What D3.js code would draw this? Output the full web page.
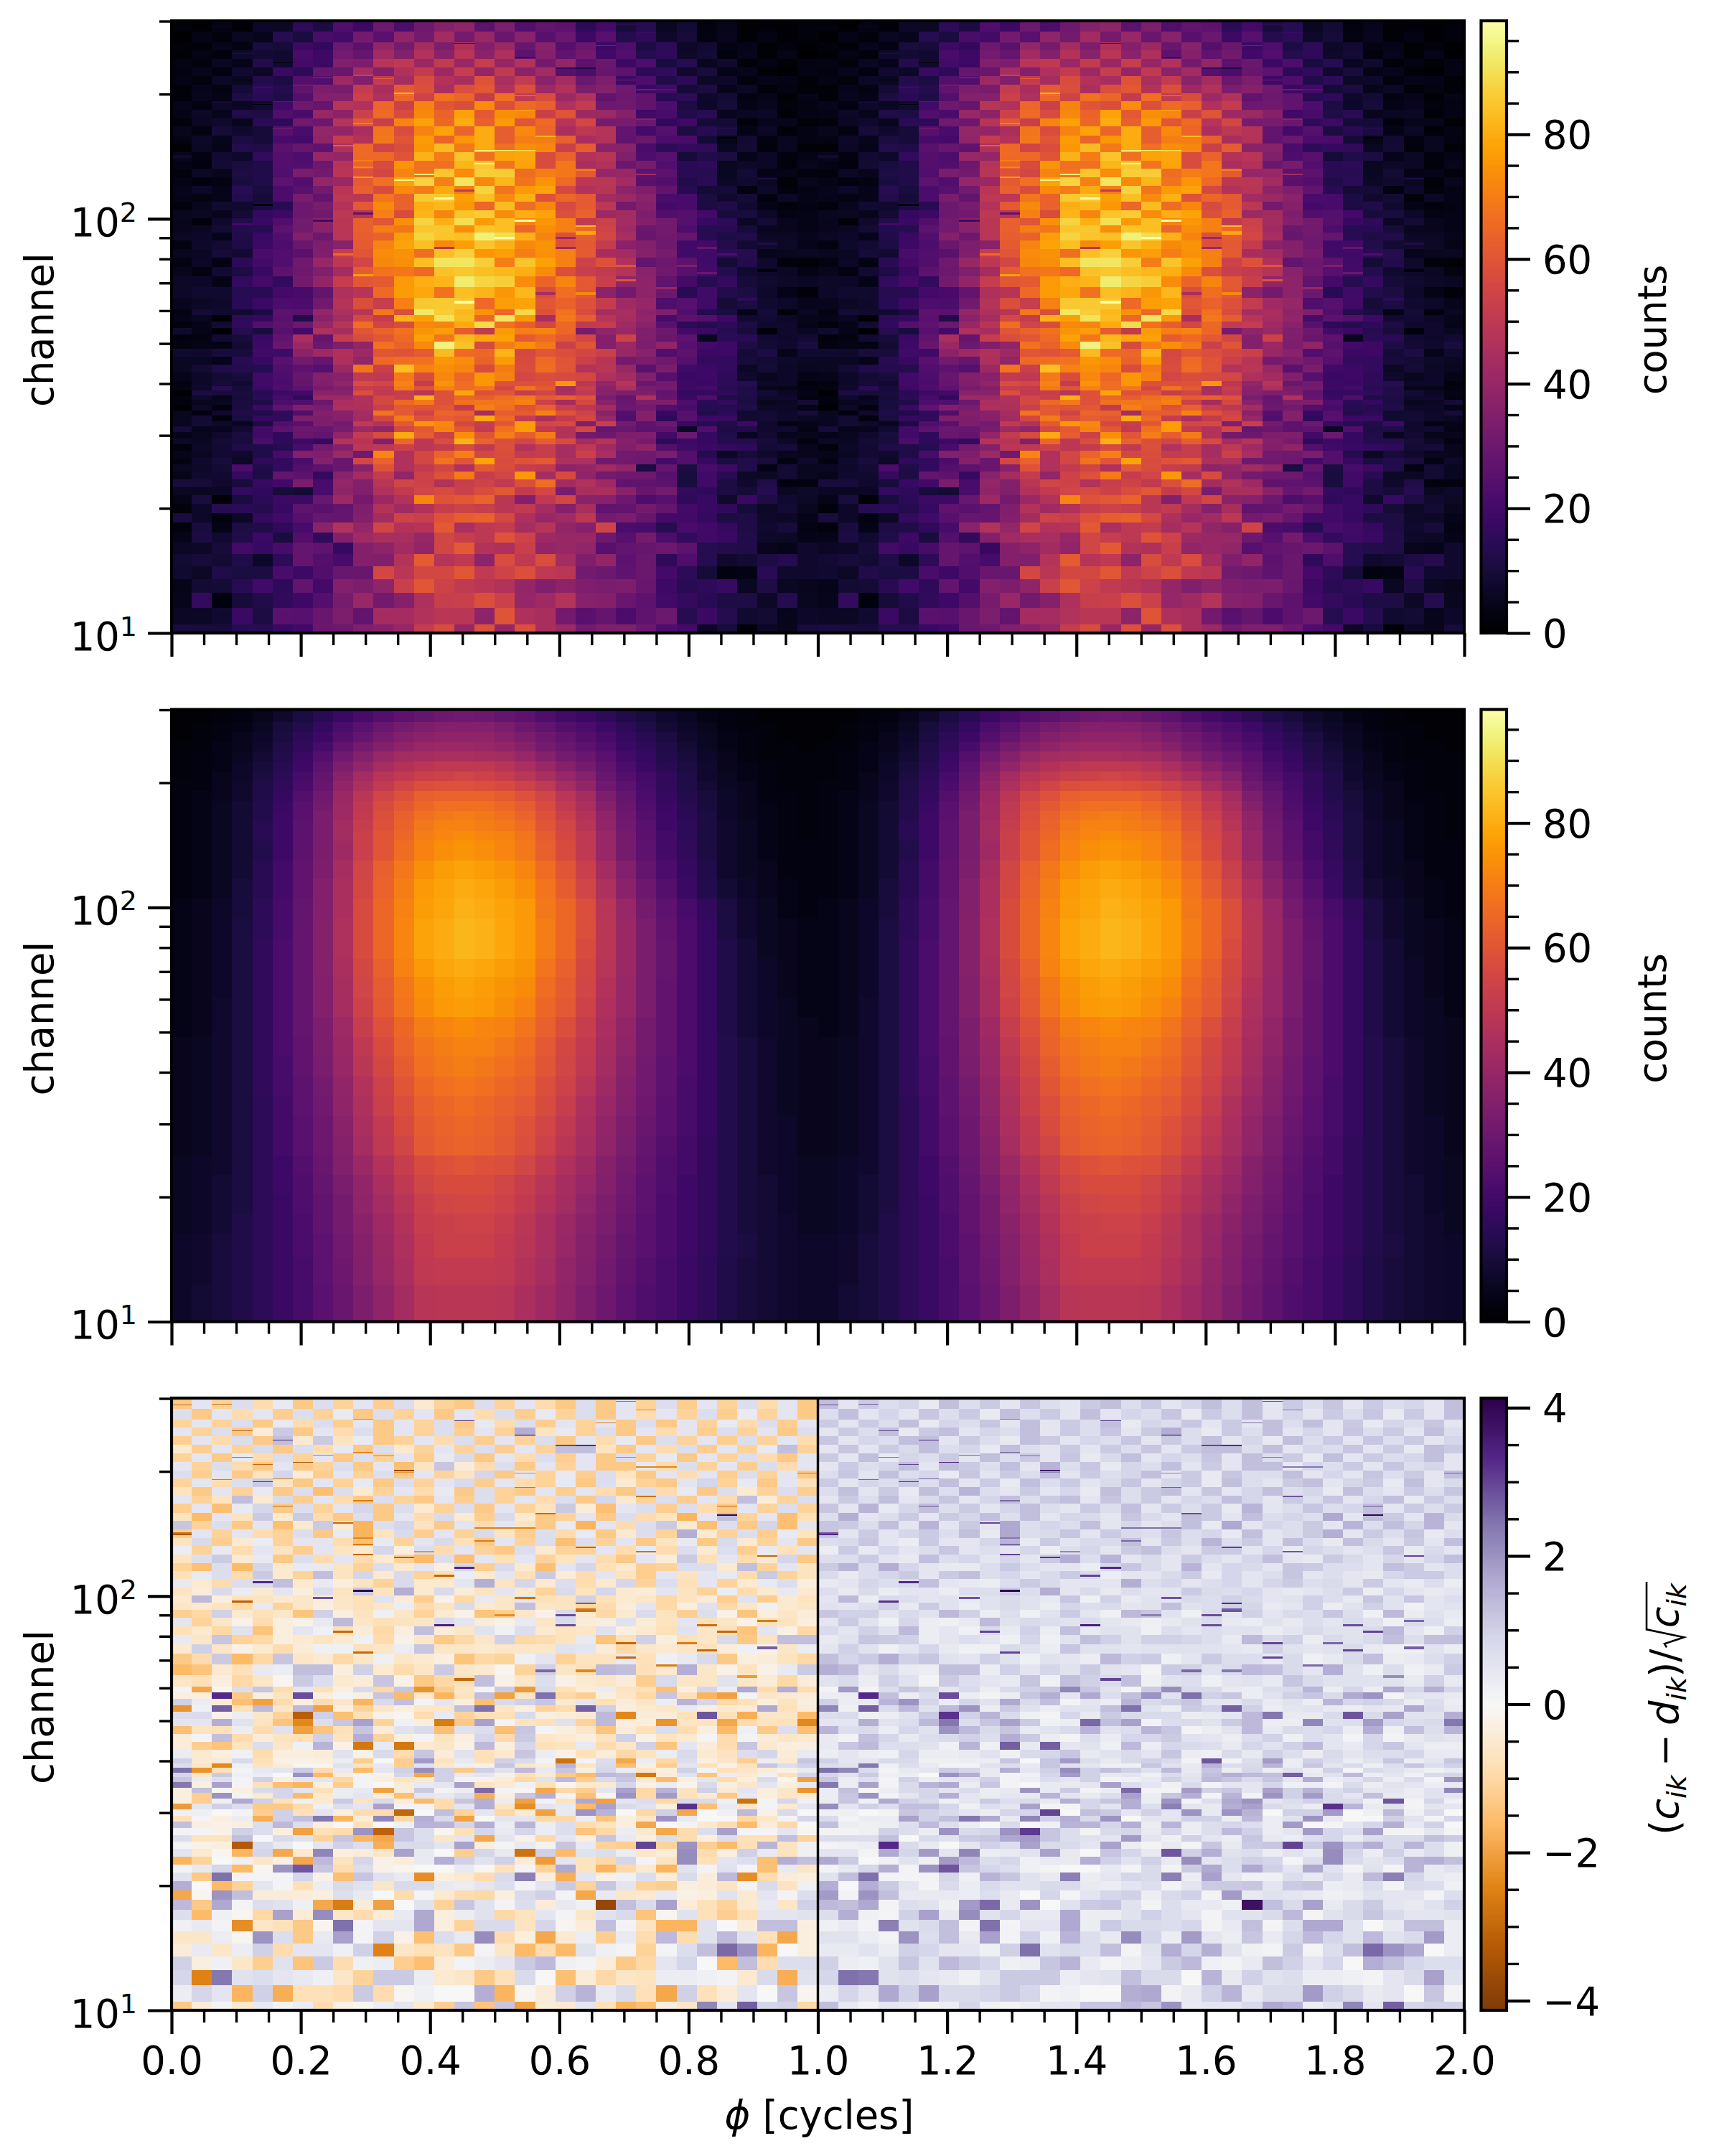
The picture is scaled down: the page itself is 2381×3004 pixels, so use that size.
<!DOCTYPE html>
<html><head><meta charset="utf-8">
<script src="https://cdn.jsdelivr.net/npm/d3@7"></script>
<style>html,body{margin:0;background:#fff}svg{display:block}text{font-family:"DejaVu Sans",sans-serif;fill:#000}</style>
</head><body><svg id="c" width="2381" height="3004"></svg>
<script>
// ---------- values ----------
const phaseBinsPerCycle = 32;
const phaseTicks = [0,0.2,0.4,0.6,0.8,1.0,1.2,1.4,1.6,1.8,2.0];
const phaseMinorTicks = [0.05,0.1,0.15,0.25,0.3,0.35,0.45,0.5,0.55,0.65,0.7,0.75,0.85,0.9,0.95,1.05,1.1,1.15,1.25,1.3,1.35,1.45,1.5,1.55,1.65,1.7,1.75,1.85,1.9,1.95];
const channelTicks = [10,100];
const channelMinorTicks = [20,30,40,50,60,70,80,90,200,300];
const countTicks = [0,20,40,60,80];
const countMinorTicks = [5,10,15,25,30,35,45,50,55,65,70,75,85,90,95];
const residualTicks = [-4,-2,0,2,4];
const residualMinorTicks = [-3.5,-3,-2.5,-1.5,-1,-0.5,0.5,1,1.5,2.5,3,3.5];
const countMax = 98.2;
const residualMax = 4.13;
const residualColors = ["#7f3b08","#b35806","#e08214","#fdb863","#fee0b6","#f7f7f7","#d8daeb","#b2abd2","#8073ac","#542788","#2d004b"];

// model counts per phase bin (one cycle), top band first
const modelEdges = [300.6,280,265,251,238,225,213,202,191,181,171,162,153,145,130,117,105,94,84,75,68,60.5,54.3,48.6,43.6,39,35,31.4,28.1,25.2,22.6,20.3,18.2,16.3,14.3,12.3,10];
const modelRows = [
[1,1,2,3,5,8,11,14,18,21,24,26,28,30,31,30,28,26,23,20,18,15,12,10,8,6,4,3,2,1,1,1],
[1,2,3,4,6,10,13,17,22,25,29,32,34,35,35,35,33,30,27,24,22,19,15,12,9,7,5,3,2,2,1,1],
[1,2,3,5,7,11,15,19,24,28,32,35,37,38,38,38,36,33,30,27,24,21,17,14,11,8,6,4,3,2,1,1],
[2,2,4,5,8,12,16,21,27,32,35,38,40,41,41,40,39,36,32,29,26,23,18,15,12,9,6,4,3,2,2,1],
[2,3,4,6,9,13,18,24,31,36,40,43,44,45,45,44,43,40,36,32,29,25,20,17,13,10,7,5,3,2,2,2],
[2,3,4,7,10,14,19,26,34,39,44,47,49,50,50,50,48,45,41,36,32,27,22,18,14,11,8,5,4,3,2,2],
[2,3,5,7,11,15,21,28,37,43,48,51,53,54,55,54,52,49,45,40,36,29,24,20,16,12,8,6,4,3,2,2],
[3,3,5,8,12,16,22,29,39,46,51,55,58,59,59,58,57,54,50,44,39,31,26,21,16,12,9,6,5,3,2,2],
[3,4,5,8,12,17,24,31,41,49,55,59,63,64,64,64,62,59,55,49,43,34,28,22,17,13,10,7,5,3,3,2],
[3,4,6,9,13,18,25,32,42,50,57,61,65,67,67,67,65,62,57,51,45,36,29,23,18,14,10,7,5,4,3,2],
[3,4,6,9,13,19,25,33,42,51,58,63,67,69,70,69,67,64,59,53,47,38,30,24,19,14,11,7,5,4,3,2],
[3,4,6,9,14,19,26,33,43,52,59,64,69,71,71,70,69,66,60,55,48,39,31,25,19,15,11,8,6,4,3,2],
[3,4,6,9,14,19,26,33,43,53,60,65,70,72,73,72,71,68,62,56,50,40,32,25,20,15,11,8,6,4,3,2],
[3,4,6,9,13,19,26,33,42,53,60,66,71,74,75,74,72,69,63,57,50,40,32,26,20,16,11,8,6,4,3,3],
[3,4,6,9,14,20,27,34,44,55,63,69,74,77,78,77,75,72,66,60,53,43,35,28,22,17,12,8,6,5,3,3],
[3,4,6,10,14,20,27,35,45,56,64,70,76,78,80,79,77,74,68,62,55,46,37,30,24,18,13,9,7,5,4,3],
[4,5,7,10,15,21,28,35,45,57,65,71,77,79,81,80,78,76,69,65,58,48,40,32,26,21,16,11,8,6,4,3],
[4,5,7,11,15,21,28,36,46,57,65,72,78,80,82,81,79,76,70,65,58,49,41,33,27,22,17,11,8,6,5,4],
[4,5,7,11,16,22,28,36,46,57,65,72,78,80,82,81,79,76,70,65,57,49,41,33,28,22,17,12,9,6,5,4],
[4,5,7,11,16,22,28,36,45,56,63,71,76,79,80,79,77,75,68,63,56,48,41,33,28,22,17,12,9,7,5,4],
[4,5,7,11,16,22,28,35,44,55,62,69,74,77,78,77,75,73,66,62,55,47,40,33,27,22,17,12,9,7,5,4],
[4,5,8,11,16,22,28,35,44,54,61,68,73,76,77,76,74,71,65,61,54,46,40,33,27,22,17,12,9,7,6,4],
[4,5,8,11,16,22,28,34,42,52,59,65,70,72,73,72,71,68,63,58,52,45,39,32,27,22,17,12,9,7,6,5],
[5,6,8,11,16,22,27,34,41,50,57,64,68,70,71,71,69,66,61,56,51,44,38,32,27,22,17,13,10,8,6,5],
[5,6,8,11,16,21,27,33,40,49,56,62,67,69,70,69,67,65,60,55,50,43,37,31,26,22,17,13,10,8,6,5],
[5,6,8,11,16,21,26,32,39,47,54,60,65,67,68,67,65,63,58,54,48,42,36,31,26,21,17,13,10,8,6,5],
[5,6,8,11,15,20,26,31,38,46,53,58,63,65,66,65,63,61,57,52,46,40,35,30,25,21,17,13,10,8,6,5],
[5,6,8,11,15,20,25,30,37,45,51,57,62,64,65,64,62,59,55,50,45,39,34,29,25,21,17,13,10,8,7,5],
[5,6,8,11,15,20,25,30,36,44,50,55,61,63,64,63,61,58,54,49,44,38,33,28,24,20,16,13,10,8,7,5],
[6,7,8,11,15,19,24,29,35,41,47,52,57,59,60,59,58,55,51,46,42,36,32,27,23,20,16,13,10,8,7,6],
[6,7,9,11,15,19,23,28,33,39,45,50,55,57,57,57,55,52,48,44,40,35,31,26,23,19,16,13,10,9,7,6],
[6,7,9,11,15,18,23,27,32,38,43,48,53,55,56,56,54,51,47,43,38,34,30,26,22,19,16,13,10,9,7,6],
[6,7,9,12,15,18,22,27,32,37,42,47,52,53,54,54,52,49,45,41,37,33,29,25,22,19,16,13,10,9,8,6],
[7,8,10,12,15,18,22,26,31,36,41,46,51,53,53,53,51,48,45,40,36,32,28,25,22,19,16,13,11,9,8,7],
[7,8,10,12,15,18,21,26,30,35,40,45,50,51,51,51,50,47,44,39,35,31,27,24,21,18,15,12,10,9,8,7],
[7,9,10,12,15,18,21,25,29,34,38,43,48,49,49,49,48,45,42,38,34,30,26,23,21,18,15,12,10,9,8,7]
];

// signed residual per phase bin (one cycle) in tenths, lowest channel band first
const residualEdges = [10,10.5,11.5,12.5,13.5,14.5,15.5,16.5,17.5,18.5,19.5,20.5,21.5,22.5,23.5,24.5,25.5,26.5,27.5,28.5,29.5,30.5,31.5,32.5,33.5,34.5,35.5,36.5,37.5,38.5,39.5,40.5,42.5,44.5,46.5,48.5,50.5,52.5,54.5,56.5,58.5,60.5,64.5,68.5,72.5,76.5,80.5,84.5,88.5,92.5,96.5,100.5,105,110,115,120,126,132,138,145,152,159,167,175,183,192,201,211,221,232,243,255,267,283,300.6];
const residualRows = [
[-13,-4,1,-5,4,1,3,-9,-2,-1,3,5,-5,-12,12,-14,12,-20,-4,-5,5,-8,-17,-15,-3,-6,22,5,27,9,10,-10],
[3,9,5,-17,10,-18,-8,-8,-9,11,-9,-1,2,0,0,16,-17,-1,-4,10,15,4,8,-8,-19,10,-8,-4,5,0,12,-1],
[9,-25,24,6,7,5,4,2,-6,-11,11,11,3,-5,-6,-13,-8,8,0,-15,-4,-10,-6,-7,3,3,2,1,-5,8,-18,6],
[10,-3,2,-6,-12,6,-14,11,-9,2,3,-12,-15,-4,1,3,5,11,14,2,1,-4,-13,-10,5,9,0,-16,13,-9,7,7],
[-4,4,-6,3,10,-9,5,5,2,10,-25,-6,-8,-7,-13,1,-6,-16,-9,-16,6,2,1,-11,1,7,13,26,20,-17,0,-3],
[-6,-6,3,-1,20,7,-13,4,18,1,10,-2,-15,7,4,21,-9,-3,-19,-5,3,-12,4,-9,14,-9,6,14,6,-8,-19,-3],
[2,4,1,-23,-6,-8,-13,-1,25,1,5,5,17,-3,-11,8,8,-7,9,-1,-4,13,1,-7,-17,-17,6,0,-4,13,13,-3],
[7,-16,2,-1,-10,18,-4,21,-6,-9,-4,4,17,-3,3,6,-10,-7,5,1,-6,6,8,-14,-1,6,-8,-12,-8,5,5,6],
[14,-13,17,1,7,6,2,-19,-26,-4,-20,0,6,-11,12,6,1,7,-4,4,2,-38,13,8,18,-4,-8,-11,-5,4,-6,10],
[-19,-1,20,13,-4,-4,-4,-3,7,4,0,-9,1,-5,-9,-10,-3,8,10,1,-19,4,-6,-5,4,-2,-3,6,-5,5,1,7],
[16,0,-16,-11,5,1,-8,3,8,6,-6,8,8,4,3,5,7,1,5,11,-11,12,5,-11,-12,-3,-4,-7,1,8,-7,2],
[6,-13,25,1,1,1,9,-2,-15,12,6,4,-23,-3,-5,-9,8,23,-3,-18,5,-2,2,7,-4,8,-4,14,-23,-9,-4,-3],
[1,4,9,-16,-1,20,28,12,-9,7,-2,-1,0,0,4,-1,-8,1,-11,17,-7,-17,-10,-5,-17,6,1,6,1,-15,4,-6],
[-17,-11,0,2,-6,-2,-19,14,-7,9,-2,-4,4,16,10,6,10,-4,-21,5,-7,-10,9,1,-7,21,-8,5,7,-15,16,13],
[5,-5,-1,-17,9,-19,-5,22,-3,-4,-6,18,4,0,-12,9,4,-28,10,-16,6,7,3,-6,-4,21,-9,-3,10,4,-7,2],
[1,-2,-3,-33,8,4,0,5,10,7,-18,8,8,5,18,-3,1,4,1,12,4,-11,-12,30,-11,20,-12,-16,-8,15,-7,2],
[7,-7,-7,13,0,8,6,-11,12,-17,-19,12,7,-6,5,-19,5,-2,-10,5,-3,12,4,-3,7,-9,-3,7,-8,-8,13,-11],
[1,1,-2,10,7,-3,-20,-8,-9,20,-31,12,7,-1,-8,9,4,9,3,7,-14,-10,3,-5,-19,-9,7,18,1,1,5,-1],
[13,-3,-2,-3,7,14,7,-3,0,-8,0,2,15,15,9,16,3,15,3,7,-9,-7,-3,-19,0,1,-5,-9,-16,-4,-10,0],
[-8,1,-3,3,-18,10,13,24,-17,-4,22,-10,16,8,-20,0,5,5,-10,-10,3,-14,-3,-6,20,4,0,0,-10,-6,1,9],
[2,2,0,1,-12,10,-8,5,-3,-9,-9,-30,0,13,-11,5,-10,-5,-20,4,20,15,0,-10,10,-19,0,2,14,-2,8,0],
[-21,5,10,7,-13,-13,-9,2,7,5,18,1,1,-9,5,16,-7,-23,5,4,-16,18,8,6,-3,32,-15,4,-6,1,-5,5],
[-3,-12,2,17,10,-8,2,-5,11,-7,8,-4,-16,-9,12,16,3,-20,1,-7,17,-20,5,7,-10,8,8,2,-28,1,9,2],
[-3,-12,20,1,-5,9,-16,-5,3,5,-4,-15,5,4,7,-18,-3,12,16,1,-15,-1,20,-10,19,-8,-5,-13,4,-3,-6,-5],
[-3,13,0,-3,8,9,5,-8,3,4,-20,-4,11,1,3,26,1,-1,-19,-10,-12,5,18,-10,15,-7,10,-5,5,-3,-6,-22],
[24,-3,18,1,-8,-15,-17,-3,-12,1,0,-4,4,5,18,-7,-5,2,-8,-1,-5,-5,9,-2,3,-1,8,-3,-6,5,-3,4],
[12,3,7,1,10,-3,5,5,-10,1,-3,-7,-5,10,1,-2,-4,-10,6,14,-12,8,12,-5,-16,-3,5,-9,-3,8,-1,-20],
[9,-6,11,2,3,0,20,-16,-4,1,-2,9,-19,10,4,5,-2,-8,-5,-13,-16,14,13,-27,-4,6,-14,3,-5,2,-8,9],
[25,-22,-8,1,4,5,11,-9,4,-16,5,10,21,10,-13,10,6,14,4,12,-3,9,3,-6,-3,10,1,-8,-6,-4,-2,4],
[7,-6,-24,2,-7,-4,-1,-1,6,-7,4,-12,6,-5,2,-2,12,-6,-4,15,-7,8,-15,-3,-12,5,-8,-2,-7,12,7,10],
[10,-5,-5,8,-8,-2,-2,-3,3,-12,0,-12,19,-7,4,-8,10,8,1,-28,1,7,-19,3,-10,7,-3,-6,-12,3,-5,12],
[3,-5,-3,2,-9,-3,-3,-4,6,-2,8,-9,12,-4,6,-8,-5,12,3,-2,-8,-4,-10,-7,3,8,-5,-7,7,9,-4,4],
[-4,-12,-14,-7,7,-6,2,15,-2,-27,4,-27,-5,-6,-2,14,-3,9,-8,-7,4,-9,-6,10,-14,5,-4,-9,12,-5,-3,-3],
[-4,1,13,-9,-4,-7,-8,10,-7,16,-11,-3,1,-7,-3,9,-9,11,-6,-5,-3,-7,10,-2,-7,-5,1,-9,1,-4,-6,-5],
[-15,-7,-8,3,-9,6,-20,-14,-8,12,-4,6,8,-15,6,7,-15,12,1,-3,-6,-14,-4,-8,7,-9,-3,-16,2,-13,7,-15],
[5,5,16,6,-7,-14,-24,7,12,18,-11,2,-3,-26,-13,18,1,-7,-8,6,-11,14,-3,-3,-22,-6,-7,-19,-9,-7,-8,-24],
[7,8,-2,3,-6,-11,-32,10,-15,-8,-2,-1,-9,4,-11,-8,-8,8,-3,-4,-5,14,-24,-4,-4,-8,28,-8,-18,-6,-6,-16],
[-22,2,27,-8,14,-6,14,-20,-3,-11,-6,-3,-6,-6,13,25,-6,-3,-11,-9,27,10,-3,-5,-6,4,-3,-5,-4,17,-8,-4],
[10,3,-4,-15,-20,-9,-3,-9,-6,-17,8,13,1,5,-3,-15,8,10,12,-5,5,-8,-4,-6,3,15,9,-10,-8,-3,-7,-3],
[-3,-3,33,-13,-3,-7,29,-3,1,-3,12,-16,-5,-17,-7,13,-20,-6,25,-10,-12,-3,-6,-10,12,-8,-17,-20,1,-6,-5,-4],
[1,-19,-1,7,12,-9,5,-8,-3,8,-10,12,-22,-12,-6,1,11,-21,8,-8,-4,3,-7,-8,-15,-3,9,3,17,-9,16,-9],
[-6,-8,-3,-10,-6,-1,11,7,-5,-4,12,-2,-13,-10,-8,13,-2,-6,7,-2,-5,-6,-4,-12,8,-6,-6,6,-6,-4,-10,-4],
[-16,-14,-5,-8,4,3,13,13,-3,10,-5,-9,-6,11,-6,-5,-1,-11,10,-6,-8,14,13,-8,-5,16,-6,-2,-7,-2,4,11],
[-13,-9,11,-16,-10,12,-6,-5,-10,-6,2,-6,-5,-3,-14,-10,-11,2,5,-11,-7,-7,4,-8,2,4,8,-13,-3,-4,-7,-10],
[-5,10,-6,-2,-5,-9,-4,2,2,-8,-6,3,12,-6,-6,-5,-6,-6,-6,6,5,-4,-10,-6,-5,-6,-8,-4,2,-2,-6,3],
[4,-6,12,-11,-10,-3,-5,-7,-5,2,-9,-2,-6,-13,-10,-6,10,-10,-9,-7,4,-14,-8,10,-3,-8,-6,8,-13,-7,13,13],
[-8,-5,-10,6,-14,-3,5,2,-8,-4,-10,-3,13,-4,-6,6,2,7,-5,-7,-6,6,-3,-5,-8,6,-6,-8,-14,5,-2,-10],
[5,-11,-6,-2,-9,-3,-2,4,14,-6,-8,-7,-6,8,5,-4,-2,4,-6,8,-4,-3,6,-4,-7,5,-8,-6,-2,-8,-7,-3],
[-12,-10,10,-5,-8,-6,-14,10,-3,-7,2,-6,-11,-5,-2,-14,-12,-6,-2,8,-5,-10,-5,8,-7,-12,7,-2,-14,-3,-6,-4],
[-6,-5,-7,-10,4,-11,-6,-3,-6,-8,-6,3,-9,-7,8,-5,-6,13,-6,-7,-10,-9,-4,5,-10,-3,6,-10,-6,2,-5,-6],
[-5,14,-3,-8,-7,-5,-6,-4,-6,-8,6,-4,-12,-2,-10,4,-6,5,-8,-7,10,-8,-5,-6,-10,-7,-4,-12,6,-12,-5,-7],
[-7,-4,8,3,-5,5,-3,7,-7,11,-7,16,-5,8,-4,-7,5,-5,-11,8,-7,9,-5,-4,5,-7,-11,3,-9,-5,4,-5],
[4,-5,-9,7,8,13,-5,4,-3,-7,-11,8,-5,-5,5,16,-7,9,-5,7,-9,-5,9,-11,7,-8,5,-11,-5,4,7,-3],
[-8,4,7,-9,11,-5,-11,13,-7,9,-5,8,-11,-8,3,-5,5,-8,11,-4,-9,5,-7,-12,5,-7,5,4,-9,11,-11,-7],
[-11,-15,7,-16,9,-5,4,4,-7,-11,7,-5,5,-3,9,-12,8,-5,-15,5,9,-8,-5,-12,-11,7,7,-5,13,-11,5,-7],
[-7,7,11,-5,4,-13,7,-9,5,-9,-5,-11,-16,7,-15,5,-8,5,-11,-7,5,-9,-13,5,-4,11,-8,5,-9,-5,9,-13],
[3,-11,4,-9,5,-7,-12,5,-7,-5,9,-3,7,-9,5,-11,-13,7,-5,-11,-11,5,-9,4,-9,7,-5,7,-12,4,-8,5],
[-7,8,-12,-5,3,-11,5,5,-9,-15,4,-11,5,8,-8,-13,5,-11,7,-15,7,-11,5,-13,-7,4,-13,8,-5,-11,5,-13],
[-12,5,-11,5,-9,-11,7,-13,4,-17,-7,8,-12,5,-11,8,-7,-12,7,-9,4,-13,-5,7,-11,16,-5,-11,7,-12,4,-7],
[12,-11,7,-13,5,-15,-5,11,-5,-17,7,9,-7,-13,5,-9,5,-7,-13,4,-17,5,-9,7,11,-5,-15,7,-13,9,-15,5],
[-7,-16,5,-7,11,-5,11,-9,-13,7,-13,5,-9,8,-5,-12,8,-5,-13,-11,5,-13,7,-9,-7,-17,5,13,-11,5,-15,-8],
[-12,5,-15,4,9,-13,7,-11,5,9,-13,7,-5,-11,7,-13,5,-11,-7,11,-4,-15,5,7,-12,7,-9,-13,5,-11,7,-11],
[5,-11,-7,13,-5,8,-12,5,-9,-13,7,-11,-13,5,-12,7,-11,5,-9,7,-13,9,-5,-11,7,-12,5,-9,13,-4,-11,7],
[-7,-13,5,-11,4,-13,7,-15,7,-5,-11,5,-9,4,-13,7,-11,-13,5,-12,5,-9,-13,7,-9,4,-13,7,-5,-11,7,-12],
[-11,5,-9,7,11,-7,-13,5,-11,4,-13,7,-11,5,8,-12,5,-9,-11,4,-13,7,-5,-11,-13,5,9,-11,4,-13,5,-8],
[7,-12,5,-13,-7,9,-4,-12,5,-11,7,-13,5,-11,-7,9,-13,5,-11,4,-12,7,-7,-13,5,-9,5,-12,7,-11,5,-13],
[5,-11,7,-9,-13,5,-13,-11,7,-13,5,-15,-7,12,-4,-9,7,-13,5,-11,5,-13,-13,4,-9,7,-11,5,-12,7,-9,5],
[-11,5,-13,4,-9,7,-11,5,-13,7,-11,5,-12,4,8,-13,5,-9,7,-12,5,-13,7,-11,4,-13,5,-11,7,-9,-13,5],
[-5,-12,5,-11,8,-13,7,-9,4,-13,7,-5,-11,5,-11,7,-12,5,-11,13,13,-7,-13,5,-9,7,-12,5,-11,4,13,-11],
[-12,5,-9,7,-13,13,-5,11,-7,4,-13,-11,5,-9,7,-12,5,-11,7,-13,5,-9,4,-13,7,-11,5,-12,7,-11,5,-9],
[5,-11,7,-13,-4,11,-13,5,-9,7,-13,5,-11,7,-12,5,-11,16,-7,4,-11,7,-13,5,-9,5,-12,7,-11,5,-13,7],
[-11,5,-11,7,-13,4,-9,7,-12,5,-13,5,-11,7,-13,4,-9,7,-12,5,-11,5,-13,7,-13,5,-11,4,-9,7,-12,5],
[7,-13,5,-9,5,-12,7,-11,4,-13,7,-11,5,-13,5,-9,7,-12,4,-11,7,-13,5,-9,5,-11,7,-12,4,-11,5,-13],
[-13,5,-11,7,-9,4,-13,7,-11,5,-12,7,-5,-11,-13,7,-11,5,-9,-13,7,-13,5,-11,7,-12,5,-11,7,-9,5,-13]
];

// single-channel streaks picked out in the upper part: channel, phase bin, residual in tenths
const streakChannels = [63,64,66,66,68,71,73,74,75,77,77,82,82,85,85,85,87,90,90,92,93,96,97,99,99,103,108,112,117,124,125,126,128,128,131,133,136,138,141,142,146,146,146,150,157,158,165,165,170,174,183,189,191,192,198,198,199,201,205,205,208,210,216,216,218,219,222,231,231,238,245,251,262,265,267,281,289,291,295];
const streakBins =     [14,28,18,20,24,22, 9,26,29,25,22, 8,27,13,19,26,29,16,19,20,20,20, 3, 7,17, 9, 4,13,14,11,29, 9,12,23,20, 9,15, 9, 0, 0,15,16,17, 8,27,18, 5,27, 9,23,17, 4, 2, 5,31,17,11,11,23,24, 4, 6, 3,22,10, 7, 9,19,20, 5,17, 3,21,14, 9,23, 0, 2,22];
const streakValues =   [-30,-21,26,-24,-26,-30,-30,-30,27,-26,-30,-30,-30,35,29,-29,-26,-23,29,-28,-27,-33,-32,28,-28,41,33,-30,33,-32,-30,-30,-22,-28,-30,-26,-26,-24,-33,-28,-25,-25,-25,-30,40,-29,-30,-30,-26,-28,-27,33,-26,-27,-28,-24,-22,-38,-24,-24,-30,-34,25,-25,-26,-28,-24,30,33,35,40,-30,-26,30,-24,-26,-30,-28,-30];

// ---------- layout ----------
const W = 2381, H = 3004, L = 239, R = 2040, CL = 2063.5, CR = 2099, PH = 853;
const tops = [29, 988.5, 1948];
const FS = 54.3, SW = 4.2, MAJ = 33, MIN = 17;
const svg = d3.select("#c");
const x = d3.scaleLinear().domain([0,2]).range([L,R]);
const countColor = d3.scaleSequential(d3.interpolateInferno).domain([0,countMax]);
const residualColor = d3.scaleLinear().domain(residualColors.map((_,i)=>-residualMax+i*2*residualMax/10)).range(residualColors);

// ---------- cell tables ----------
function modelAt(ch,col){
  const k = modelEdges.findIndex((e,i)=> i<modelEdges.length-1 && ch<=e && ch>modelEdges[i+1]);
  return modelRows[Math.max(k,0)][col];
}
function cells(edges, rows, valueOf){ // edges[i]..edges[i+1] bounds rows[i]
  const out = [];
  rows.forEach((row,i)=>{
    const a = Math.min(edges[i],edges[i+1]), b = Math.max(edges[i],edges[i+1]);
    for(let k=0;k<2*phaseBinsPerCycle;k++){
      const col = k%phaseBinsPerCycle, cyc = k>=phaseBinsPerCycle?1:0;
      out.push({lo:a,hi:b,k,v:valueOf(row[col],Math.sqrt(a*b),col,cyc)});
    }
  });
  return out;
}
function streaks(valueOf){
  const out = [];
  streakChannels.forEach((ch,i)=>{
    [0,1].forEach(cyc=>{
      out.push({lo:ch-0.5,hi:ch+0.5,k:streakBins[i]+cyc*phaseBinsPerCycle,v:valueOf(streakValues[i],ch,streakBins[i],cyc)});
    });
  });
  return out;
}
// data panel: d = c - r*sqrt(c), the relation named on the third colourbar
const observedValue = (r,ch,col)=>{const c=modelAt(ch,col);return Math.max(0,c-(r/10)*Math.sqrt(c));};
const observed = cells(residualEdges,residualRows,observedValue).concat(streaks(observedValue));
const model = cells(modelEdges,modelRows,(m)=>m);
// residual panel: signed in the first cycle, absolute in the second
const residualValue = (r,ch,col,cyc)=>cyc?Math.abs(r)/10:r/10;
const residual = cells(residualEdges,residualRows,residualValue).concat(streaks(residualValue));

// ---------- panels ----------
function styleAxis(g,w){ g.select(".domain").remove(); g.selectAll("line").attr("stroke","#000").attr("stroke-width",w); }
function panel(i,data,color,domain,majors,minors,cbFmt,ylabel){
  const top = tops[i], bottom = top+PH;
  const y = d3.scaleLog().domain([10,300.6]).range([bottom,top]);
  const g = svg.append("g");
  g.append("g").attr("shape-rendering","crispEdges").selectAll("rect").data(data).join("rect")
    .attr("x",d=>x(d.k/phaseBinsPerCycle)).attr("width",d=>x((d.k+1)/phaseBinsPerCycle)-x(d.k/phaseBinsPerCycle))
    .attr("y",d=>y(d.hi)).attr("height",d=>y(d.lo)-y(d.hi)).attr("fill",d=>color(d.v));
  if(i===2) g.append("line").attr("x1",x(1)).attr("x2",x(1)).attr("y1",top).attr("y2",bottom).attr("stroke","#000").attr("stroke-width",3.4);
  // x axis
  const xMaj = g.append("g").attr("transform",`translate(0,${bottom})`)
    .call(d3.axisBottom(x).tickValues(phaseTicks).tickSize(MAJ).tickSizeOuter(0).tickPadding(14).tickFormat(i===2?d3.format(".1f"):""));
  styleAxis(xMaj,SW);
  xMaj.selectAll("text").attr("font-size",FS).attr("font-family","DejaVu Sans").attr("dy","0.78em");
  styleAxis(g.append("g").attr("transform",`translate(0,${bottom})`)
    .call(d3.axisBottom(x).tickValues(phaseMinorTicks).tickSize(MIN).tickSizeOuter(0).tickFormat("")),3.4);
  // y axis
  const yMaj = g.append("g").attr("transform",`translate(${L},0)`)
    .call(d3.axisLeft(y).tickValues(channelTicks).tickSize(MAJ).tickSizeOuter(0).tickPadding(15).tickFormat(""));
  styleAxis(yMaj,SW);
  yMaj.selectAll(".tick text").each(function(d){
    const t = d3.select(this).attr("font-size",FS).attr("font-family","DejaVu Sans").attr("dy","0.43em");
    t.append("tspan").text("10");
    t.append("tspan").attr("font-size",FS*0.7).attr("dy","-0.53em").text(Math.round(Math.log10(d)));
  });
  styleAxis(g.append("g").attr("transform",`translate(${L},0)`)
    .call(d3.axisLeft(y).tickValues(channelMinorTicks).tickSize(MIN).tickSizeOuter(0).tickFormat("")),3.4);
  // spines
  g.append("rect").attr("x",L).attr("y",top).attr("width",R-L).attr("height",PH).attr("fill","none").attr("stroke","#000").attr("stroke-width",SW);
  g.append("text").attr("transform",`translate(74,${top+PH/2+4}) rotate(-90)`).attr("text-anchor","middle").attr("font-size",FS).text("channel");
  // colourbar
  const cy = d3.scaleLinear().domain(domain).range([bottom,top]);
  const steps = d3.range(0,256);
  g.append("g").attr("shape-rendering","crispEdges").selectAll("rect").data(steps).join("rect")
    .attr("x",CL).attr("width",CR-CL)
    .attr("y",s=>cy(domain[0]+(s+1)/256*(domain[1]-domain[0])))
    .attr("height",s=>cy(domain[0]+s/256*(domain[1]-domain[0]))-cy(domain[0]+(s+1)/256*(domain[1]-domain[0]))+0.6)
    .attr("fill",s=>color(domain[0]+(s+0.5)/256*(domain[1]-domain[0])));
  const cMaj = g.append("g").attr("transform",`translate(${CR},0)`)
    .call(d3.axisRight(cy).tickValues(majors).tickSize(MAJ).tickSizeOuter(0).tickPadding(17).tickFormat(cbFmt));
  styleAxis(cMaj,SW);
  cMaj.selectAll("text").attr("font-size",FS).attr("font-family","DejaVu Sans").attr("dy","0.36em");
  styleAxis(g.append("g").attr("transform",`translate(${CR},0)`)
    .call(d3.axisRight(cy).tickValues(minors).tickSize(MIN).tickSizeOuter(0).tickFormat("")),3.4);
  g.append("rect").attr("x",CL).attr("y",top).attr("width",CR-CL).attr("height",PH).attr("fill","none").attr("stroke","#000").attr("stroke-width",SW);
  if(ylabel) g.append("text").attr("transform",`translate(2321,${top+PH/2+4}) rotate(-90)`).attr("text-anchor","middle").attr("font-size",FS).text(ylabel);
}
const intFmt = d3.format("d");
const minusFmt = d=>String(d).replace("-","\u2212");
panel(0,observed,countColor,[0,countMax],countTicks,countMinorTicks,intFmt,"counts");
panel(1,model,countColor,[0,countMax],countTicks,countMinorTicks,intFmt,"counts");
panel(2,residual,residualColor,[-residualMax,residualMax],residualTicks,residualMinorTicks,minusFmt,null);

// x label
const xl = svg.append("text").attr("x",(L+R)/2+2).attr("y",2966).attr("text-anchor","middle").attr("font-size",FS);
xl.append("tspan").attr("font-style","italic").text("\u03D5");
xl.append("tspan").text(" [cycles]");

// residual colourbar label, built left to right along its rotated baseline
const lab = svg.append("g").attr("transform","translate(2338,2557) rotate(-90)");
let cx = 0;
function piece(t,italic,sub){
  const e = lab.append("text").attr("x",cx).attr("y",sub?11:0).attr("font-size",sub?FS*0.7:FS).attr("font-style",italic?"italic":"normal").text(t);
  cx += e.node().getComputedTextLength();
}
piece("(",0,0);piece("c",1,0);piece("ik",1,1);cx+=12;piece("\u2212",0,0);cx+=12;piece("d",1,0);piece("ik",1,1);piece(")",0,0);piece("/",0,0);
const r0 = cx;
cx += 29;
piece("c",1,0);piece("ik",1,1);
lab.append("path").attr("fill","none").attr("stroke","#000").attr("stroke-width",2.6)
  .attr("d",d3.line()([[r0+2,-16],[r0+7,-19],[r0+16,8],[r0+27,-44],[cx+2,-44]]));
</script></body></html>
